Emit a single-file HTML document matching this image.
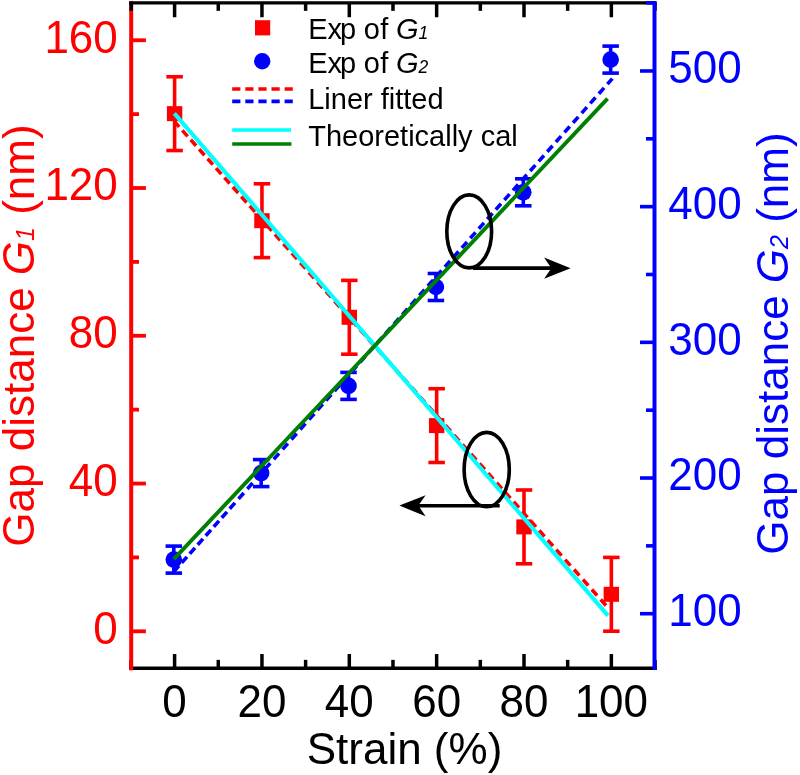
<!DOCTYPE html>
<html><head><meta charset="utf-8"><title>Gap distance vs strain</title>
<style>html,body{margin:0;padding:0;background:#fff;width:800px;height:775px;overflow:hidden}svg{display:block}</style>
</head><body>
<svg width="800" height="775" viewBox="0 0 800 775">
<rect width="800" height="775" fill="#fff"/>
<g stroke="#000000" stroke-width="3.5" fill="none">
<line x1="129.2" y1="668.25" x2="656.5" y2="668.25"/>
<line x1="130.93" y1="668.25" x2="130.93" y2="659.85"/>
<line x1="174.60" y1="668.25" x2="174.60" y2="654.05"/>
<line x1="218.27" y1="668.25" x2="218.27" y2="659.85"/>
<line x1="261.95" y1="668.25" x2="261.95" y2="654.05"/>
<line x1="305.62" y1="668.25" x2="305.62" y2="659.85"/>
<line x1="349.30" y1="668.25" x2="349.30" y2="654.05"/>
<line x1="392.98" y1="668.25" x2="392.98" y2="659.85"/>
<line x1="436.65" y1="668.25" x2="436.65" y2="654.05"/>
<line x1="480.32" y1="668.25" x2="480.32" y2="659.85"/>
<line x1="524.00" y1="668.25" x2="524.00" y2="654.05"/>
<line x1="567.67" y1="668.25" x2="567.67" y2="659.85"/>
<line x1="611.35" y1="668.25" x2="611.35" y2="654.05"/>
<line x1="655.02" y1="670.0" x2="655.02" y2="659.85"/>
</g>
<g stroke="#ff0000" stroke-width="4" fill="none">
<line x1="131.2" y1="1.1500000000000001" x2="131.2" y2="670.15"/>
<line x1="131.2" y1="631.30" x2="145.90" y2="631.30" stroke-width="3.8"/>
<line x1="131.2" y1="557.42" x2="139.00" y2="557.42" stroke-width="3.8"/>
<line x1="131.2" y1="483.54" x2="145.90" y2="483.54" stroke-width="3.8"/>
<line x1="131.2" y1="409.66" x2="139.00" y2="409.66" stroke-width="3.8"/>
<line x1="131.2" y1="335.78" x2="145.90" y2="335.78" stroke-width="3.8"/>
<line x1="131.2" y1="261.90" x2="139.00" y2="261.90" stroke-width="3.8"/>
<line x1="131.2" y1="188.02" x2="145.90" y2="188.02" stroke-width="3.8"/>
<line x1="131.2" y1="114.14" x2="139.00" y2="114.14" stroke-width="3.8"/>
<line x1="131.2" y1="40.26" x2="145.90" y2="40.26" stroke-width="3.8"/>
</g>
<g stroke="#000000" stroke-width="3.4" fill="none">
<line x1="129.2" y1="2.85" x2="656.5" y2="2.85"/>
<line x1="131.20" y1="2.85" x2="131.20" y2="10.85" stroke-width="3.5"/>
<line x1="174.60" y1="2.85" x2="174.60" y2="17.25" stroke-width="3.5"/>
<line x1="218.27" y1="2.85" x2="218.27" y2="10.85" stroke-width="3.5"/>
<line x1="261.95" y1="2.85" x2="261.95" y2="17.25" stroke-width="3.5"/>
<line x1="305.62" y1="2.85" x2="305.62" y2="10.85" stroke-width="3.5"/>
<line x1="349.30" y1="2.85" x2="349.30" y2="17.25" stroke-width="3.5"/>
<line x1="392.98" y1="2.85" x2="392.98" y2="10.85" stroke-width="3.5"/>
<line x1="436.65" y1="2.85" x2="436.65" y2="17.25" stroke-width="3.5"/>
<line x1="480.32" y1="2.85" x2="480.32" y2="10.85" stroke-width="3.5"/>
<line x1="524.00" y1="2.85" x2="524.00" y2="17.25" stroke-width="3.5"/>
<line x1="567.67" y1="2.85" x2="567.67" y2="10.85" stroke-width="3.5"/>
<line x1="611.35" y1="2.85" x2="611.35" y2="17.25" stroke-width="3.5"/>
<line x1="655.02" y1="2.85" x2="655.02" y2="10.85" stroke-width="3.5"/>
</g>
<g stroke="#0000ff" stroke-width="4" fill="none">
<line x1="654.5" y1="1.1500000000000001" x2="654.5" y2="670.05"/>
<line x1="654.5" y1="613.70" x2="640.00" y2="613.70" stroke-width="3.6"/>
<line x1="654.5" y1="545.86" x2="646.00" y2="545.86" stroke-width="3.6"/>
<line x1="654.5" y1="478.02" x2="640.00" y2="478.02" stroke-width="3.6"/>
<line x1="654.5" y1="410.18" x2="646.00" y2="410.18" stroke-width="3.6"/>
<line x1="654.5" y1="342.34" x2="640.00" y2="342.34" stroke-width="3.6"/>
<line x1="654.5" y1="274.50" x2="646.00" y2="274.50" stroke-width="3.6"/>
<line x1="654.5" y1="206.66" x2="640.00" y2="206.66" stroke-width="3.6"/>
<line x1="654.5" y1="138.82" x2="646.00" y2="138.82" stroke-width="3.6"/>
<line x1="654.5" y1="70.98" x2="640.00" y2="70.98" stroke-width="3.6"/>
<line x1="654.5" y1="2.85" x2="646.00" y2="2.85" stroke-width="3.6"/>
</g>
<line x1="174.60" y1="76.75" x2="174.60" y2="150.55" stroke="#ff0000" stroke-width="3.6"/><line x1="166.35" y1="76.75" x2="182.85" y2="76.75" stroke="#ff0000" stroke-width="3.6"/><line x1="166.35" y1="150.55" x2="182.85" y2="150.55" stroke="#ff0000" stroke-width="3.6"/>
<rect x="166.90" y="106.15" width="15.4" height="15.0" fill="#ff0000"/>
<line x1="261.95" y1="183.80" x2="261.95" y2="257.60" stroke="#ff0000" stroke-width="3.6"/><line x1="253.70" y1="183.80" x2="270.20" y2="183.80" stroke="#ff0000" stroke-width="3.6"/><line x1="253.70" y1="257.60" x2="270.20" y2="257.60" stroke="#ff0000" stroke-width="3.6"/>
<rect x="254.25" y="213.20" width="15.4" height="15.0" fill="#ff0000"/>
<line x1="349.30" y1="280.40" x2="349.30" y2="354.20" stroke="#ff0000" stroke-width="3.6"/><line x1="341.05" y1="280.40" x2="357.55" y2="280.40" stroke="#ff0000" stroke-width="3.6"/><line x1="341.05" y1="354.20" x2="357.55" y2="354.20" stroke="#ff0000" stroke-width="3.6"/>
<rect x="341.60" y="309.80" width="15.4" height="15.0" fill="#ff0000"/>
<line x1="436.65" y1="388.70" x2="436.65" y2="462.50" stroke="#ff0000" stroke-width="3.6"/><line x1="428.40" y1="388.70" x2="444.90" y2="388.70" stroke="#ff0000" stroke-width="3.6"/><line x1="428.40" y1="462.50" x2="444.90" y2="462.50" stroke="#ff0000" stroke-width="3.6"/>
<rect x="428.95" y="418.10" width="15.4" height="15.0" fill="#ff0000"/>
<line x1="524.00" y1="490.00" x2="524.00" y2="563.80" stroke="#ff0000" stroke-width="3.6"/><line x1="515.75" y1="490.00" x2="532.25" y2="490.00" stroke="#ff0000" stroke-width="3.6"/><line x1="515.75" y1="563.80" x2="532.25" y2="563.80" stroke="#ff0000" stroke-width="3.6"/>
<rect x="516.30" y="519.40" width="15.4" height="15.0" fill="#ff0000"/>
<line x1="611.35" y1="557.40" x2="611.35" y2="631.20" stroke="#ff0000" stroke-width="3.6"/><line x1="603.10" y1="557.40" x2="619.60" y2="557.40" stroke="#ff0000" stroke-width="3.6"/><line x1="603.10" y1="631.20" x2="619.60" y2="631.20" stroke="#ff0000" stroke-width="3.6"/>
<rect x="603.65" y="586.80" width="15.4" height="15.0" fill="#ff0000"/>
<line x1="173.80" y1="546.10" x2="173.80" y2="573.10" stroke="#0000ff" stroke-width="3.6"/><line x1="165.55" y1="546.10" x2="182.05" y2="546.10" stroke="#0000ff" stroke-width="3.6"/><line x1="165.55" y1="573.10" x2="182.05" y2="573.10" stroke="#0000ff" stroke-width="3.6"/>
<circle cx="173.80" cy="559.60" r="8.3" fill="#0000ff"/>
<line x1="261.17" y1="459.60" x2="261.17" y2="486.60" stroke="#0000ff" stroke-width="3.6"/><line x1="252.92" y1="459.60" x2="269.42" y2="459.60" stroke="#0000ff" stroke-width="3.6"/><line x1="252.92" y1="486.60" x2="269.42" y2="486.60" stroke="#0000ff" stroke-width="3.6"/>
<circle cx="261.17" cy="473.10" r="8.3" fill="#0000ff"/>
<line x1="348.54" y1="372.40" x2="348.54" y2="399.40" stroke="#0000ff" stroke-width="3.6"/><line x1="340.29" y1="372.40" x2="356.79" y2="372.40" stroke="#0000ff" stroke-width="3.6"/><line x1="340.29" y1="399.40" x2="356.79" y2="399.40" stroke="#0000ff" stroke-width="3.6"/>
<circle cx="348.54" cy="385.90" r="8.3" fill="#0000ff"/>
<line x1="435.91" y1="273.50" x2="435.91" y2="300.50" stroke="#0000ff" stroke-width="3.6"/><line x1="427.66" y1="273.50" x2="444.16" y2="273.50" stroke="#0000ff" stroke-width="3.6"/><line x1="427.66" y1="300.50" x2="444.16" y2="300.50" stroke="#0000ff" stroke-width="3.6"/>
<circle cx="435.91" cy="287.00" r="8.3" fill="#0000ff"/>
<line x1="523.28" y1="178.80" x2="523.28" y2="205.80" stroke="#0000ff" stroke-width="3.6"/><line x1="515.03" y1="178.80" x2="531.53" y2="178.80" stroke="#0000ff" stroke-width="3.6"/><line x1="515.03" y1="205.80" x2="531.53" y2="205.80" stroke="#0000ff" stroke-width="3.6"/>
<circle cx="523.28" cy="192.30" r="8.3" fill="#0000ff"/>
<line x1="610.65" y1="46.10" x2="610.65" y2="73.10" stroke="#0000ff" stroke-width="3.6"/><line x1="602.40" y1="46.10" x2="618.90" y2="46.10" stroke="#0000ff" stroke-width="3.6"/><line x1="602.40" y1="73.10" x2="618.90" y2="73.10" stroke="#0000ff" stroke-width="3.6"/>
<circle cx="610.65" cy="59.60" r="8.3" fill="#0000ff"/>
<path d="M174.60,121.71L179.19,126.86M182.32,130.37L187.65,136.34M190.74,139.81L196.07,145.78M199.17,149.26L204.49,155.23M207.59,158.70L212.91,164.67M216.01,168.14L221.34,174.12M224.43,177.59L229.76,183.56M232.86,187.03L238.18,193.00M241.28,196.48L246.60,202.45M249.70,205.92L255.02,211.89M258.12,215.36L263.45,221.33M266.54,224.81L271.87,230.78M274.97,234.25L280.29,240.22M283.39,243.69L288.71,249.66M291.81,253.14L297.14,259.11M300.34,262.70L305.67,268.67M308.87,272.27L314.20,278.24M317.40,281.83L322.73,287.80M325.93,291.40L331.26,297.37M334.46,300.96L339.79,306.93M342.99,310.53L348.32,316.50M351.52,320.09L356.85,326.06M360.05,329.66L365.38,335.63M368.58,339.22L373.91,345.19M377.12,348.79L382.44,354.76M385.65,358.35L390.97,364.32M394.18,367.92L399.50,373.89M402.71,377.48L408.03,383.45M411.24,387.05L416.56,393.02M419.77,396.61L425.09,402.58M428.30,406.18L433.62,412.15M436.83,415.74L442.15,421.71M445.36,425.31L450.68,431.28M453.89,434.87L459.21,440.84M462.42,444.43L467.74,450.41M470.95,454.00L476.27,459.97M479.48,463.56L484.80,469.53M488.01,473.13L493.33,479.10M496.54,482.69L501.87,488.66M505.07,492.26L510.40,498.23M513.60,501.82L518.93,507.79M522.13,511.39L527.46,517.36M530.66,520.95L535.99,526.92M539.19,530.52L544.52,536.49M547.72,540.08L553.05,546.05M556.25,549.65L561.58,555.62M565.14,559.61L570.46,565.58M574.02,569.57L579.35,575.54M582.91,579.54L588.23,585.51M591.80,589.50L597.12,595.47M600.68,599.46L606.01,605.43" stroke="#ff0000" stroke-width="3.6" fill="none"/>
<path d="M173.80,571.64L178.96,565.83M181.72,562.74L186.97,556.84M189.72,553.74L194.97,547.84M197.72,544.75L202.97,538.84M205.72,535.75L210.97,529.85M213.72,526.75L218.97,520.85M221.72,517.76L226.97,511.85M229.72,508.76L234.98,502.86M238.53,498.86L243.78,492.95M247.34,488.95L252.59,483.05M256.15,479.05L261.40,473.14M264.96,469.14L270.21,463.24M273.77,459.24L279.02,453.33M282.58,449.33L287.83,443.43M291.39,439.43L296.64,433.53M300.20,429.52L305.45,423.62M309.01,419.62L314.26,413.72M317.50,410.08L322.75,404.17M325.99,400.53L331.24,394.63M334.48,390.99L339.73,385.08M342.96,381.44L348.21,375.54M351.45,371.90L356.70,366.00M359.94,362.36L365.19,356.45M368.43,352.81L373.68,346.91M376.92,343.27L382.17,337.36M385.41,333.72L390.66,327.82M393.90,324.18L399.15,318.28M402.38,314.64L407.63,308.73M410.87,305.09L416.12,299.19M419.36,295.55L424.61,289.65M427.85,286.00L433.10,280.10M436.34,276.46L441.59,270.56M444.83,266.92L450.08,261.01M453.32,257.37L458.57,251.47M461.80,247.83L467.05,241.93M470.29,238.28L475.54,232.38M478.78,228.74L484.03,222.84M487.27,219.20L492.52,213.29M495.76,209.65L501.01,203.75M504.35,199.99L509.60,194.09M512.94,190.34L518.19,184.43M521.53,180.68L526.78,174.78M530.12,171.02L535.37,165.12M538.71,161.36L543.96,155.46M547.30,151.71L552.55,145.80M555.89,142.05L561.14,136.15M564.48,132.39L569.73,126.49M573.07,122.73L578.32,116.83M581.66,113.08L586.91,107.17M590.25,103.42L595.50,97.51M598.84,93.76L604.09,87.86M607.41,84.12L612.31,78.61" stroke="#0000ff" stroke-width="3.6" fill="none"/>
<line x1="174.3" y1="113.3" x2="608" y2="615.6" stroke="#00ffff" stroke-width="4.1"/>
<line x1="173.8" y1="559.2" x2="607.55" y2="98.55" stroke="#008000" stroke-width="3.9"/>
<ellipse cx="469.2" cy="231.4" rx="22.4" ry="36.5" fill="none" stroke="#000000" stroke-width="3.6"/>
<line x1="473" y1="268.1" x2="552" y2="268.1" stroke="#000000" stroke-width="3.8"/>
<path d="M570.6,268.2 L544.1,257.5 L551.3,268.2 L544.1,278.8 Z" fill="#000000"/>
<ellipse cx="486.7" cy="469.6" rx="22.6" ry="37.2" fill="none" stroke="#000000" stroke-width="3.6"/>
<line x1="417" y1="505.7" x2="499.7" y2="505.7" stroke="#000000" stroke-width="3.6"/>
<path d="M399.4,505.6 L425.6,495.3 L418.4,505.6 L425.6,516.3 Z" fill="#000000"/>
<rect x="255" y="20.2" width="15.2" height="15.2" fill="#ff0000"/>
<circle cx="262.2" cy="61.3" r="8.2" fill="#0000ff"/>
<line x1="232.2" y1="89" x2="292.9" y2="89" stroke="#ff0000" stroke-width="3.6" stroke-dasharray="8.2 4.9"/>
<line x1="232.2" y1="101.4" x2="292.9" y2="101.4" stroke="#0000ff" stroke-width="3.6" stroke-dasharray="8.2 4.9"/>
<line x1="232.2" y1="130" x2="291" y2="130" stroke="#00ffff" stroke-width="3.7"/>
<line x1="232.2" y1="144" x2="291.5" y2="144" stroke="#008000" stroke-width="3.7"/>
<g font-family="'Liberation Sans', sans-serif" font-size="29" fill="#000000">
<text x="308.2" y="38.8">Ex<tspan dx="-2.1">p</tspan><tspan dx="-0.4"> o</tspan><tspan dx="0.35">f </tspan><tspan dx="-0.35" font-style="italic">G</tspan><tspan font-style="italic" font-size="17.5">1</tspan></text>
<text x="308.2" y="72.5">Ex<tspan dx="-2.1">p</tspan><tspan dx="-0.4"> o</tspan><tspan dx="0.35">f </tspan><tspan dx="-0.35" font-style="italic">G</tspan><tspan font-style="italic" font-size="17.5">2</tspan></text>
<text x="308.2" y="109">Liner fitted</text>
<text x="308.2" y="146">Theoretically cal</text>
</g>
<text font-family="'Liberation Sans', sans-serif" font-size="44" fill="#ff0000" text-anchor="end" transform="translate(117.80,643.60) scale(1,1.037)" >0</text>
<text font-family="'Liberation Sans', sans-serif" font-size="44" fill="#ff0000" text-anchor="end" transform="translate(117.80,495.84) scale(1,1.037)" >40</text>
<text font-family="'Liberation Sans', sans-serif" font-size="44" fill="#ff0000" text-anchor="end" transform="translate(117.80,348.08) scale(1,1.037)" >80</text>
<text font-family="'Liberation Sans', sans-serif" font-size="44" fill="#ff0000" text-anchor="end" transform="translate(117.80,200.32) scale(1,1.037)" >120</text>
<text font-family="'Liberation Sans', sans-serif" font-size="44" fill="#ff0000" text-anchor="end" transform="translate(117.80,52.56) scale(1,1.037)" >160</text>
<text font-family="'Liberation Sans', sans-serif" font-size="44" fill="#0000ff" text-anchor="start" transform="translate(668.20,625.90) scale(1,1.037)" >100</text>
<text font-family="'Liberation Sans', sans-serif" font-size="44" fill="#0000ff" text-anchor="start" transform="translate(668.20,490.22) scale(1,1.037)" >200</text>
<text font-family="'Liberation Sans', sans-serif" font-size="44" fill="#0000ff" text-anchor="start" transform="translate(668.20,354.54) scale(1,1.037)" >300</text>
<text font-family="'Liberation Sans', sans-serif" font-size="44" fill="#0000ff" text-anchor="start" transform="translate(668.20,218.86) scale(1,1.037)" >400</text>
<text font-family="'Liberation Sans', sans-serif" font-size="44" fill="#0000ff" text-anchor="start" transform="translate(668.20,83.18) scale(1,1.037)" >500</text>
<text font-family="'Liberation Sans', sans-serif" font-size="44" fill="#000000" text-anchor="middle" transform="translate(174.60,716.50) scale(1,1.037)" >0</text>
<text font-family="'Liberation Sans', sans-serif" font-size="44" fill="#000000" text-anchor="middle" transform="translate(261.95,716.50) scale(1,1.037)" >20</text>
<text font-family="'Liberation Sans', sans-serif" font-size="44" fill="#000000" text-anchor="middle" transform="translate(349.30,716.50) scale(1,1.037)" >40</text>
<text font-family="'Liberation Sans', sans-serif" font-size="44" fill="#000000" text-anchor="middle" transform="translate(436.65,716.50) scale(1,1.037)" >60</text>
<text font-family="'Liberation Sans', sans-serif" font-size="44" fill="#000000" text-anchor="middle" transform="translate(524.00,716.50) scale(1,1.037)" >80</text>
<text font-family="'Liberation Sans', sans-serif" font-size="44" fill="#000000" text-anchor="middle" transform="translate(611.35,716.50) scale(1,1.037)" >100</text>
<text font-family="'Liberation Sans', sans-serif" font-size="44" fill="#000000" text-anchor="middle" transform="translate(404.50,764.00)" >Strain (%)</text>
<text font-family="'Liberation Sans', sans-serif" font-size="44" fill="#ff0000" text-anchor="middle" transform="translate(34.20,335.50) rotate(-90)" >Gap distance <tspan font-style="italic">G</tspan><tspan font-style="italic" font-size="25">1</tspan> (nm)</text>
<text font-family="'Liberation Sans', sans-serif" font-size="44" fill="#0000ff" text-anchor="middle" transform="translate(788.30,343.50) rotate(-90)" >Gap distance <tspan font-style="italic">G</tspan><tspan font-style="italic" font-size="25">2</tspan> (nm)</text>
</svg>
</body></html>
